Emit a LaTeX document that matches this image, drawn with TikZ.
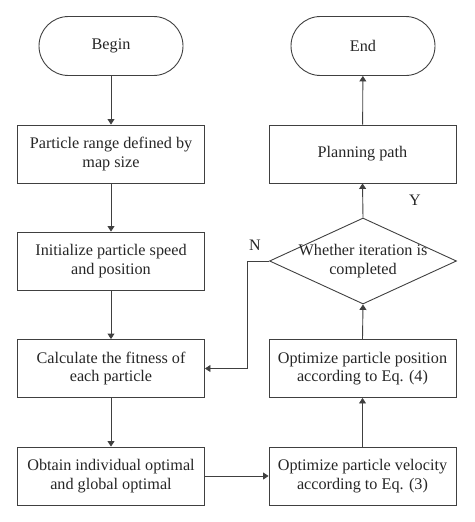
\documentclass[tikz,border=0pt]{standalone}
\usepackage{fontspec}
\setmainfont{Liberation Serif}
\usetikzlibrary{shapes.geometric,arrows.meta}
\begin{document}
\begin{tikzpicture}[x=1pt,y=-1pt,
  every node/.style={font=\fontsize{16.2}{18.5}\selectfont, text=black!85},
  boxstyle/.style={draw=black!75, line width=0.9pt, minimum width=187pt, minimum height=58pt, align=center, inner sep=2pt},
  termstyle/.style={draw=black!75, line width=0.9pt, minimum width=144pt, minimum height=59pt, rounded corners=29.5pt, align=center},
  decstyle/.style={draw=black!75, line width=0.9pt, diamond, aspect=2.17, minimum width=187pt, minimum height=86pt, inner sep=0pt},
  conn/.style={draw=black!75, line width=0.9pt, -{Triangle[length=5.5pt,width=7pt]}},
  lbl/.style={font=\fontsize{16}{18}\selectfont}
]
\useasboundingbox (0,0) rectangle (474,522);
\node[termstyle] (begin) at (111,46) {Begin};
\node[boxstyle] (range) at (111,154) {Particle range defined by\\map size};
\node[boxstyle] (init) at (111,261) {Initialize particle speed\\and position};
\node[boxstyle] (fit) at (111,368.5) {Calculate the fitness of\\each particle};
\node[boxstyle] (obt) at (111,476) {Obtain individual optimal\\and global optimal};
\node[termstyle] (end) at (363,46) {End};
\node[boxstyle] (plan) at (362.5,154) {Planning path};
\node[decstyle, label={[align=center]center:Whether iteration is\\completed}] (dec) at (363,261) {};
\node[boxstyle] (pos) at (362.5,368.5) {Optimize particle position\\according to Eq. (4)};
\node[boxstyle] (vel) at (362.5,476) {Optimize particle velocity\\according to Eq. (3)};
\coordinate (nturn) at (247,261);
\draw[conn] (begin) -- (range);
\draw[conn] (range) -- (init);
\draw[conn] (init) -- (fit);
\draw[conn] (fit) -- (obt);
\draw[conn] (obt.east) -- (vel.west);
\draw[conn] (vel) -- (pos);
\draw[conn] (pos.north) -- (dec.south);
\draw[conn] (dec.north) -- (plan.south);
\draw[conn] (plan) -- (end);
\draw[conn] (dec.west) -- (nturn) |- (fit.east);
\node[lbl] (ylbl) at (415,200) {Y};
\node[lbl] (nlbl) at (255,245) {N};
\end{tikzpicture}
\end{document}
